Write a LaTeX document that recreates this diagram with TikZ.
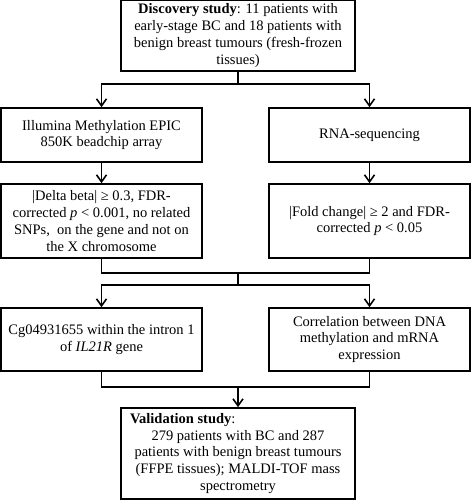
\documentclass[tikz,border=0pt]{standalone}
\usepackage{fontspec}
\setmainfont{Liberation Serif}
\usetikzlibrary{arrows.meta}
\begin{document}
\begin{tikzpicture}[x=1pt,y=-1pt,
  box/.style={draw, line width=1.6pt, align=center, inner sep=0pt,
    font=\fontsize{14.5}{16.7}\selectfont},
  lbox/.style={box, minimum width=234pt},
  sbox/.style={box, minimum width=201pt},
  conn/.style={line width=1.6pt},
  arr/.style={conn, -{Straight Barb[length=7pt,width=10pt]}}]
\useasboundingbox (0,0) rectangle (471,500);
\node[lbox, minimum height=71pt] (disc) at (238,35.5)
  {\textbf{Discovery study}: 11 patients with\\early-stage BC and 18 patients with\\benign breast tumours (fresh-frozen\\tissues)};
\node[sbox, minimum height=54pt] (ill) at (101.5,135)
  {Illumina Methylation EPIC\\850K beadchip array};
\node[sbox, minimum height=54pt] (rna) at (369.5,135) {RNA-sequencing};
\node[sbox, minimum height=74pt] (delta) at (101.5,221)
  {|Delta beta| ≥ 0.3, FDR-\\corrected \textit{p} < 0.001, no related\\SNPs,\ \ on the gene and not on\\the X chromosome};
\node[sbox, minimum height=74pt] (fold) at (369.5,221)
  {|Fold change| ≥ 2 and FDR-\\corrected \textit{p} < 0.05};
\node[sbox, minimum height=63pt] (cg) at (101.5,339.5)
  {Cg04931655 within the intron 1\\of \textit{IL21R} gene};
\node[sbox, minimum height=63pt] (corr) at (369.5,339.5)
  {Correlation between DNA\\methylation and mRNA\\expression};
\node[lbox, minimum height=91pt] (val) at (238,453.5)
  {\makebox[216pt][l]{\textbf{Validation study}:}\\279 patients with BC and 287\\patients with benign breast tumours\\(FFPE tissues); MALDI-TOF mass\\spectrometry};
\coordinate (j1) at (238,84);
\draw[conn] (disc.south) -- (j1);
\draw[arr] (j1) -| (ill.north);
\draw[arr] (j1) -| (rna.north);
\draw[arr] (ill.south) -- (delta.north);
\draw[arr] (rna.south) -- (fold.north);
\coordinate (m1) at (238,273);
\coordinate (s2) at (238,285);
\draw[conn] (delta.south) |- (m1);
\draw[conn] (fold.south) |- (m1);
\draw[conn] (m1) -- (s2);
\draw[arr] (s2) -| (cg.north);
\draw[arr] (s2) -| (corr.north);
\coordinate (m2) at (238,387);
\draw[conn] (cg.south) |- (m2);
\draw[conn] (corr.south) |- (m2);
\draw[arr] (m2) -- (val.north);
\end{tikzpicture}
\end{document}
